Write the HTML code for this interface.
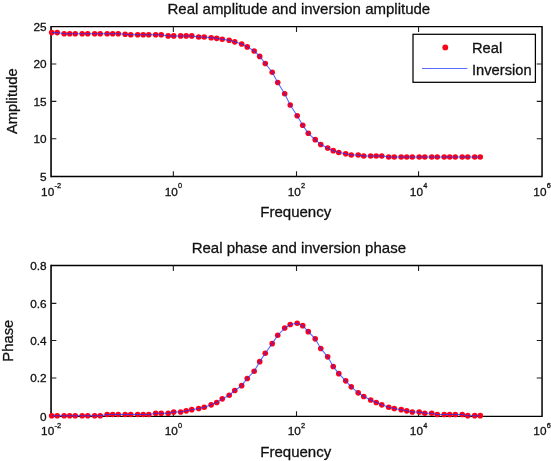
<!DOCTYPE html>
<html><head><meta charset="utf-8"><title>Real and inversion amplitude / phase</title>
<style>html,body{margin:0;padding:0;background:#fff}svg{display:block}text{font-family:"Liberation Sans",Arial,Helvetica,sans-serif;fill:#111;stroke:#111;stroke-width:.3px}.t{font-size:11.8px}.l{font-size:15.0px}.s{font-size:7.4px}</style></head><body>
<svg width="551" height="461" viewBox="0 0 551 461">
<rect width="551" height="461" fill="#fff"/>
<g fill="none" stroke="#000">
<path d="M51.05 25.95V177.30" stroke-width="1.6"/>
<path d="M542.05 25.95V177.30" stroke-width="1.5"/>
<path d="M51.05 26.60H542.05" stroke-width="1.3"/>
<path d="M51.05 176.55H542.05" stroke-width="1.5"/>
<path d="M173.35 176.55v-5.30M173.35 26.60v5.30M296.50 176.55v-5.30M296.50 26.60v5.30M418.55 176.55v-5.30M418.55 26.60v5.30M51.05 138.80h5.30M542.05 138.80h-5.30M51.05 101.40h5.30M542.05 101.40h-5.30M51.05 64.00h5.30M542.05 64.00h-5.30" stroke="#1c1c1c" stroke-width="1.1"/>
</g>
<text class="t" x="46.65" y="180.85" text-anchor="end">5</text>
<text class="t" x="46.65" y="143.05" text-anchor="end">10</text>
<text class="t" x="46.65" y="105.65" text-anchor="end">15</text>
<text class="t" x="46.65" y="68.25" text-anchor="end">20</text>
<text class="t" x="46.65" y="30.75" text-anchor="end">25</text>
<text class="t" x="41.10" y="195.95">10<tspan class="s" dx="0.2" dy="-7.5">-2</tspan></text>
<text class="t" x="164.63" y="195.95">10<tspan class="s" dx="0.2" dy="-7.5">0</tspan></text>
<text class="t" x="287.78" y="195.95">10<tspan class="s" dx="0.2" dy="-7.5">2</tspan></text>
<text class="t" x="409.83" y="195.95">10<tspan class="s" dx="0.2" dy="-7.5">4</tspan></text>
<text class="t" x="533.33" y="195.95">10<tspan class="s" dx="0.2" dy="-7.5">6</tspan></text>
<text class="l" x="295.75" y="217.45" text-anchor="middle">Frequency</text>
<text class="l" x="298.85" y="13.60" text-anchor="middle">Real amplitude and inversion amplitude</text>
<text class="l" style="font-size:14.8px" transform="translate(17.40 101.20) rotate(-90)" text-anchor="middle">Amplitude</text>
<g fill="#ff0016">
<circle cx="51.67" cy="32.60" r="2.8"/>
<circle cx="57.22" cy="32.60" r="2.8"/>
<circle cx="64.15" cy="33.80" r="2.8"/>
<circle cx="69.70" cy="33.80" r="2.8"/>
<circle cx="75.25" cy="33.80" r="2.8"/>
<circle cx="82.18" cy="33.80" r="2.8"/>
<circle cx="87.73" cy="33.80" r="2.8"/>
<circle cx="94.67" cy="33.80" r="2.8"/>
<circle cx="100.21" cy="33.80" r="2.8"/>
<circle cx="107.15" cy="33.80" r="2.8"/>
<circle cx="112.70" cy="33.80" r="2.8"/>
<circle cx="118.24" cy="33.80" r="2.8"/>
<circle cx="125.18" cy="34.30" r="2.8"/>
<circle cx="130.73" cy="34.80" r="2.8"/>
<circle cx="137.66" cy="34.80" r="2.8"/>
<circle cx="143.21" cy="34.80" r="2.8"/>
<circle cx="148.76" cy="34.80" r="2.8"/>
<circle cx="155.69" cy="34.80" r="2.8"/>
<circle cx="161.24" cy="34.80" r="2.8"/>
<circle cx="168.18" cy="35.90" r="2.8"/>
<circle cx="173.72" cy="35.90" r="2.8"/>
<circle cx="180.66" cy="35.90" r="2.8"/>
<circle cx="186.21" cy="35.90" r="2.8"/>
<circle cx="191.76" cy="35.90" r="2.8"/>
<circle cx="198.69" cy="37.00" r="2.8"/>
<circle cx="204.24" cy="37.00" r="2.8"/>
<circle cx="211.17" cy="37.72" r="2.8"/>
<circle cx="216.72" cy="38.35" r="2.8"/>
<circle cx="222.27" cy="39.18" r="2.8"/>
<circle cx="229.20" cy="40.29" r="2.8"/>
<circle cx="234.75" cy="41.83" r="2.8"/>
<circle cx="241.69" cy="43.95" r="2.8"/>
<circle cx="247.24" cy="46.90" r="2.8"/>
<circle cx="254.17" cy="50.96" r="2.8"/>
<circle cx="259.72" cy="56.40" r="2.8"/>
<circle cx="265.27" cy="63.48" r="2.8"/>
<circle cx="272.20" cy="72.25" r="2.8"/>
<circle cx="277.75" cy="82.49" r="2.8"/>
<circle cx="284.69" cy="93.68" r="2.8"/>
<circle cx="290.23" cy="105.04" r="2.8"/>
<circle cx="297.17" cy="115.79" r="2.8"/>
<circle cx="302.72" cy="125.32" r="2.8"/>
<circle cx="308.26" cy="133.29" r="2.8"/>
<circle cx="315.20" cy="139.63" r="2.8"/>
<circle cx="320.75" cy="144.47" r="2.8"/>
<circle cx="327.68" cy="148.05" r="2.8"/>
<circle cx="333.23" cy="150.65" r="2.8"/>
<circle cx="338.78" cy="152.50" r="2.8"/>
<circle cx="345.71" cy="153.81" r="2.8"/>
<circle cx="351.26" cy="155.00" r="2.8"/>
<circle cx="358.20" cy="155.00" r="2.8"/>
<circle cx="363.74" cy="156.00" r="2.8"/>
<circle cx="370.68" cy="156.00" r="2.8"/>
<circle cx="376.23" cy="156.00" r="2.8"/>
<circle cx="381.78" cy="156.00" r="2.8"/>
<circle cx="388.71" cy="157.00" r="2.8"/>
<circle cx="394.26" cy="157.00" r="2.8"/>
<circle cx="401.19" cy="157.00" r="2.8"/>
<circle cx="406.74" cy="157.00" r="2.8"/>
<circle cx="412.29" cy="157.00" r="2.8"/>
<circle cx="419.22" cy="157.00" r="2.8"/>
<circle cx="424.77" cy="157.00" r="2.8"/>
<circle cx="431.71" cy="157.00" r="2.8"/>
<circle cx="437.26" cy="157.00" r="2.8"/>
<circle cx="444.19" cy="157.00" r="2.8"/>
<circle cx="449.74" cy="157.00" r="2.8"/>
<circle cx="455.29" cy="157.00" r="2.8"/>
<circle cx="462.22" cy="157.00" r="2.8"/>
<circle cx="467.77" cy="157.00" r="2.8"/>
<circle cx="474.70" cy="157.00" r="2.8"/>
<circle cx="480.25" cy="157.00" r="2.8"/>
</g>
<polyline fill="none" stroke="#1e32ff" stroke-opacity=".75" stroke-width="1.05" points="51.67,32.60 57.22,32.60 64.15,33.80 69.70,33.80 75.25,33.80 82.18,33.80 87.73,33.80 94.67,33.80 100.21,33.80 107.15,33.80 112.70,33.80 118.24,33.80 125.18,34.30 130.73,34.80 137.66,34.80 143.21,34.80 148.76,34.80 155.69,34.80 161.24,34.80 168.18,35.90 173.72,35.90 180.66,35.90 186.21,35.90 191.76,35.90 198.69,37.00 204.24,37.00 211.17,37.72 216.72,38.35 222.27,39.18 229.20,40.29 234.75,41.83 241.69,43.95 247.24,46.90 254.17,50.96 259.72,56.40 265.27,63.48 272.20,72.25 277.75,82.49 284.69,93.68 290.23,105.04 297.17,115.79 302.72,125.32 308.26,133.29 315.20,139.63 320.75,144.47 327.68,148.05 333.23,150.65 338.78,152.50 345.71,153.81 351.26,155.00 358.20,155.00 363.74,156.00 370.68,156.00 376.23,156.00 381.78,156.00 388.71,157.00 394.26,157.00 401.19,157.00 406.74,157.00 412.29,157.00 419.22,157.00 424.77,157.00 431.71,157.00 437.26,157.00 444.19,157.00 449.74,157.00 455.29,157.00 462.22,157.00 467.77,157.00 474.70,157.00 480.25,157.00"/>
<g fill="none" stroke="#000">
<path d="M51.05 264.85V417.10" stroke-width="1.6"/>
<path d="M542.05 264.85V417.10" stroke-width="1.5"/>
<path d="M51.05 265.60H542.05" stroke-width="1.5"/>
<path d="M51.05 416.45H542.05" stroke-width="1.3"/>
<path d="M173.35 416.45v-5.30M173.35 265.60v5.30M296.50 416.45v-5.30M296.50 265.60v5.30M418.55 416.45v-5.30M418.55 265.60v5.30M51.05 377.95h5.30M542.05 377.95h-5.30M51.05 340.55h5.30M542.05 340.55h-5.30M51.05 303.35h5.30M542.05 303.35h-5.30" stroke="#1c1c1c" stroke-width="1.1"/>
</g>
<text class="t" x="46.65" y="420.85" text-anchor="end">0</text>
<text class="t" x="46.65" y="382.20" text-anchor="end">0.2</text>
<text class="t" x="46.65" y="344.80" text-anchor="end">0.4</text>
<text class="t" x="46.65" y="307.60" text-anchor="end">0.6</text>
<text class="t" x="46.65" y="270.25" text-anchor="end">0.8</text>
<text class="t" x="41.10" y="435.15">10<tspan class="s" dx="0.2" dy="-7.5">-2</tspan></text>
<text class="t" x="164.63" y="435.15">10<tspan class="s" dx="0.2" dy="-7.5">0</tspan></text>
<text class="t" x="287.78" y="435.15">10<tspan class="s" dx="0.2" dy="-7.5">2</tspan></text>
<text class="t" x="409.83" y="435.15">10<tspan class="s" dx="0.2" dy="-7.5">4</tspan></text>
<text class="t" x="533.33" y="435.15">10<tspan class="s" dx="0.2" dy="-7.5">6</tspan></text>
<text class="l" x="295.75" y="456.65" text-anchor="middle">Frequency</text>
<text class="l" x="298.85" y="252.60" text-anchor="middle">Real phase and inversion phase</text>
<text class="l" style="font-size:14.8px" transform="translate(12.60 340.70) rotate(-90)" text-anchor="middle">Phase</text>
<g fill="#ff0016">
<circle cx="51.67" cy="415.70" r="2.8"/>
<circle cx="57.22" cy="415.70" r="2.8"/>
<circle cx="64.15" cy="415.70" r="2.8"/>
<circle cx="69.70" cy="415.70" r="2.8"/>
<circle cx="75.25" cy="415.70" r="2.8"/>
<circle cx="82.18" cy="415.70" r="2.8"/>
<circle cx="87.73" cy="415.70" r="2.8"/>
<circle cx="94.67" cy="415.70" r="2.8"/>
<circle cx="100.21" cy="415.70" r="2.8"/>
<circle cx="107.15" cy="414.50" r="2.8"/>
<circle cx="112.70" cy="414.50" r="2.8"/>
<circle cx="118.24" cy="414.50" r="2.8"/>
<circle cx="125.18" cy="414.50" r="2.8"/>
<circle cx="130.73" cy="414.50" r="2.8"/>
<circle cx="137.66" cy="414.50" r="2.8"/>
<circle cx="143.21" cy="414.50" r="2.8"/>
<circle cx="148.76" cy="414.50" r="2.8"/>
<circle cx="155.69" cy="413.30" r="2.8"/>
<circle cx="161.24" cy="413.30" r="2.8"/>
<circle cx="168.18" cy="413.30" r="2.8"/>
<circle cx="173.72" cy="412.05" r="2.8"/>
<circle cx="180.66" cy="412.05" r="2.8"/>
<circle cx="186.21" cy="410.85" r="2.8"/>
<circle cx="191.76" cy="409.65" r="2.8"/>
<circle cx="198.69" cy="408.45" r="2.8"/>
<circle cx="204.24" cy="407.25" r="2.8"/>
<circle cx="211.17" cy="404.85" r="2.8"/>
<circle cx="216.72" cy="402.45" r="2.8"/>
<circle cx="222.27" cy="398.85" r="2.8"/>
<circle cx="229.20" cy="395.25" r="2.8"/>
<circle cx="234.75" cy="390.45" r="2.8"/>
<circle cx="241.69" cy="385.65" r="2.8"/>
<circle cx="247.24" cy="378.45" r="2.8"/>
<circle cx="254.17" cy="371.25" r="2.8"/>
<circle cx="259.72" cy="361.65" r="2.8"/>
<circle cx="265.27" cy="353.25" r="2.8"/>
<circle cx="272.20" cy="343.65" r="2.8"/>
<circle cx="277.75" cy="335.25" r="2.8"/>
<circle cx="284.69" cy="328.05" r="2.8"/>
<circle cx="290.23" cy="324.45" r="2.8"/>
<circle cx="297.17" cy="323.25" r="2.8"/>
<circle cx="302.72" cy="325.65" r="2.8"/>
<circle cx="308.26" cy="331.65" r="2.8"/>
<circle cx="315.20" cy="338.85" r="2.8"/>
<circle cx="320.75" cy="348.45" r="2.8"/>
<circle cx="327.68" cy="356.85" r="2.8"/>
<circle cx="333.23" cy="366.45" r="2.8"/>
<circle cx="338.78" cy="373.65" r="2.8"/>
<circle cx="345.71" cy="380.85" r="2.8"/>
<circle cx="351.26" cy="386.85" r="2.8"/>
<circle cx="358.20" cy="392.85" r="2.8"/>
<circle cx="363.74" cy="396.45" r="2.8"/>
<circle cx="370.68" cy="400.05" r="2.8"/>
<circle cx="376.23" cy="402.45" r="2.8"/>
<circle cx="381.78" cy="404.85" r="2.8"/>
<circle cx="388.71" cy="407.25" r="2.8"/>
<circle cx="394.26" cy="408.45" r="2.8"/>
<circle cx="401.19" cy="409.65" r="2.8"/>
<circle cx="406.74" cy="410.85" r="2.8"/>
<circle cx="412.29" cy="412.05" r="2.8"/>
<circle cx="419.22" cy="412.05" r="2.8"/>
<circle cx="424.77" cy="413.25" r="2.8"/>
<circle cx="431.71" cy="413.25" r="2.8"/>
<circle cx="437.26" cy="414.45" r="2.8"/>
<circle cx="444.19" cy="414.45" r="2.8"/>
<circle cx="449.74" cy="414.45" r="2.8"/>
<circle cx="455.29" cy="414.45" r="2.8"/>
<circle cx="462.22" cy="414.45" r="2.8"/>
<circle cx="467.77" cy="415.65" r="2.8"/>
<circle cx="474.70" cy="415.65" r="2.8"/>
<circle cx="480.25" cy="415.65" r="2.8"/>
</g>
<polyline fill="none" stroke="#1e32ff" stroke-opacity=".75" stroke-width="1.05" points="51.67,415.70 57.22,415.70 64.15,415.70 69.70,415.70 75.25,415.70 82.18,415.70 87.73,415.70 94.67,415.70 100.21,415.70 107.15,414.50 112.70,414.50 118.24,414.50 125.18,414.50 130.73,414.50 137.66,414.50 143.21,414.50 148.76,414.50 155.69,413.30 161.24,413.30 168.18,413.30 173.72,412.05 180.66,412.05 186.21,410.85 191.76,409.65 198.69,408.45 204.24,407.25 211.17,404.85 216.72,402.45 222.27,398.85 229.20,395.25 234.75,390.45 241.69,385.65 247.24,378.45 254.17,371.25 259.72,361.65 265.27,353.25 272.20,343.65 277.75,335.25 284.69,328.05 290.23,324.45 297.17,323.25 302.72,325.65 308.26,331.65 315.20,338.85 320.75,348.45 327.68,356.85 333.23,366.45 338.78,373.65 345.71,380.85 351.26,386.85 358.20,392.85 363.74,396.45 370.68,400.05 376.23,402.45 381.78,404.85 388.71,407.25 394.26,408.45 401.19,409.65 406.74,410.85 412.29,412.05 419.22,412.05 424.77,413.25 431.71,413.25 437.26,414.45 444.19,414.45 449.74,414.45 455.29,414.45 462.22,414.45 467.77,415.65 474.70,415.65 480.25,415.65"/>
<rect x="413" y="34.3" width="122.4" height="48" fill="#fff" stroke="#000" stroke-width="1.25"/>
<circle cx="445.3" cy="47.4" r="2.9" fill="#ff0016"/>
<path d="M422 68.5H467.3" stroke="#5a6cfb" stroke-width="1" fill="none"/>
<text class="l" style="font-size:14.7px" x="472" y="52.9">Real</text>
<text class="l" style="font-size:14.7px" x="472" y="74.5">Inversion</text>
</svg></body></html>
